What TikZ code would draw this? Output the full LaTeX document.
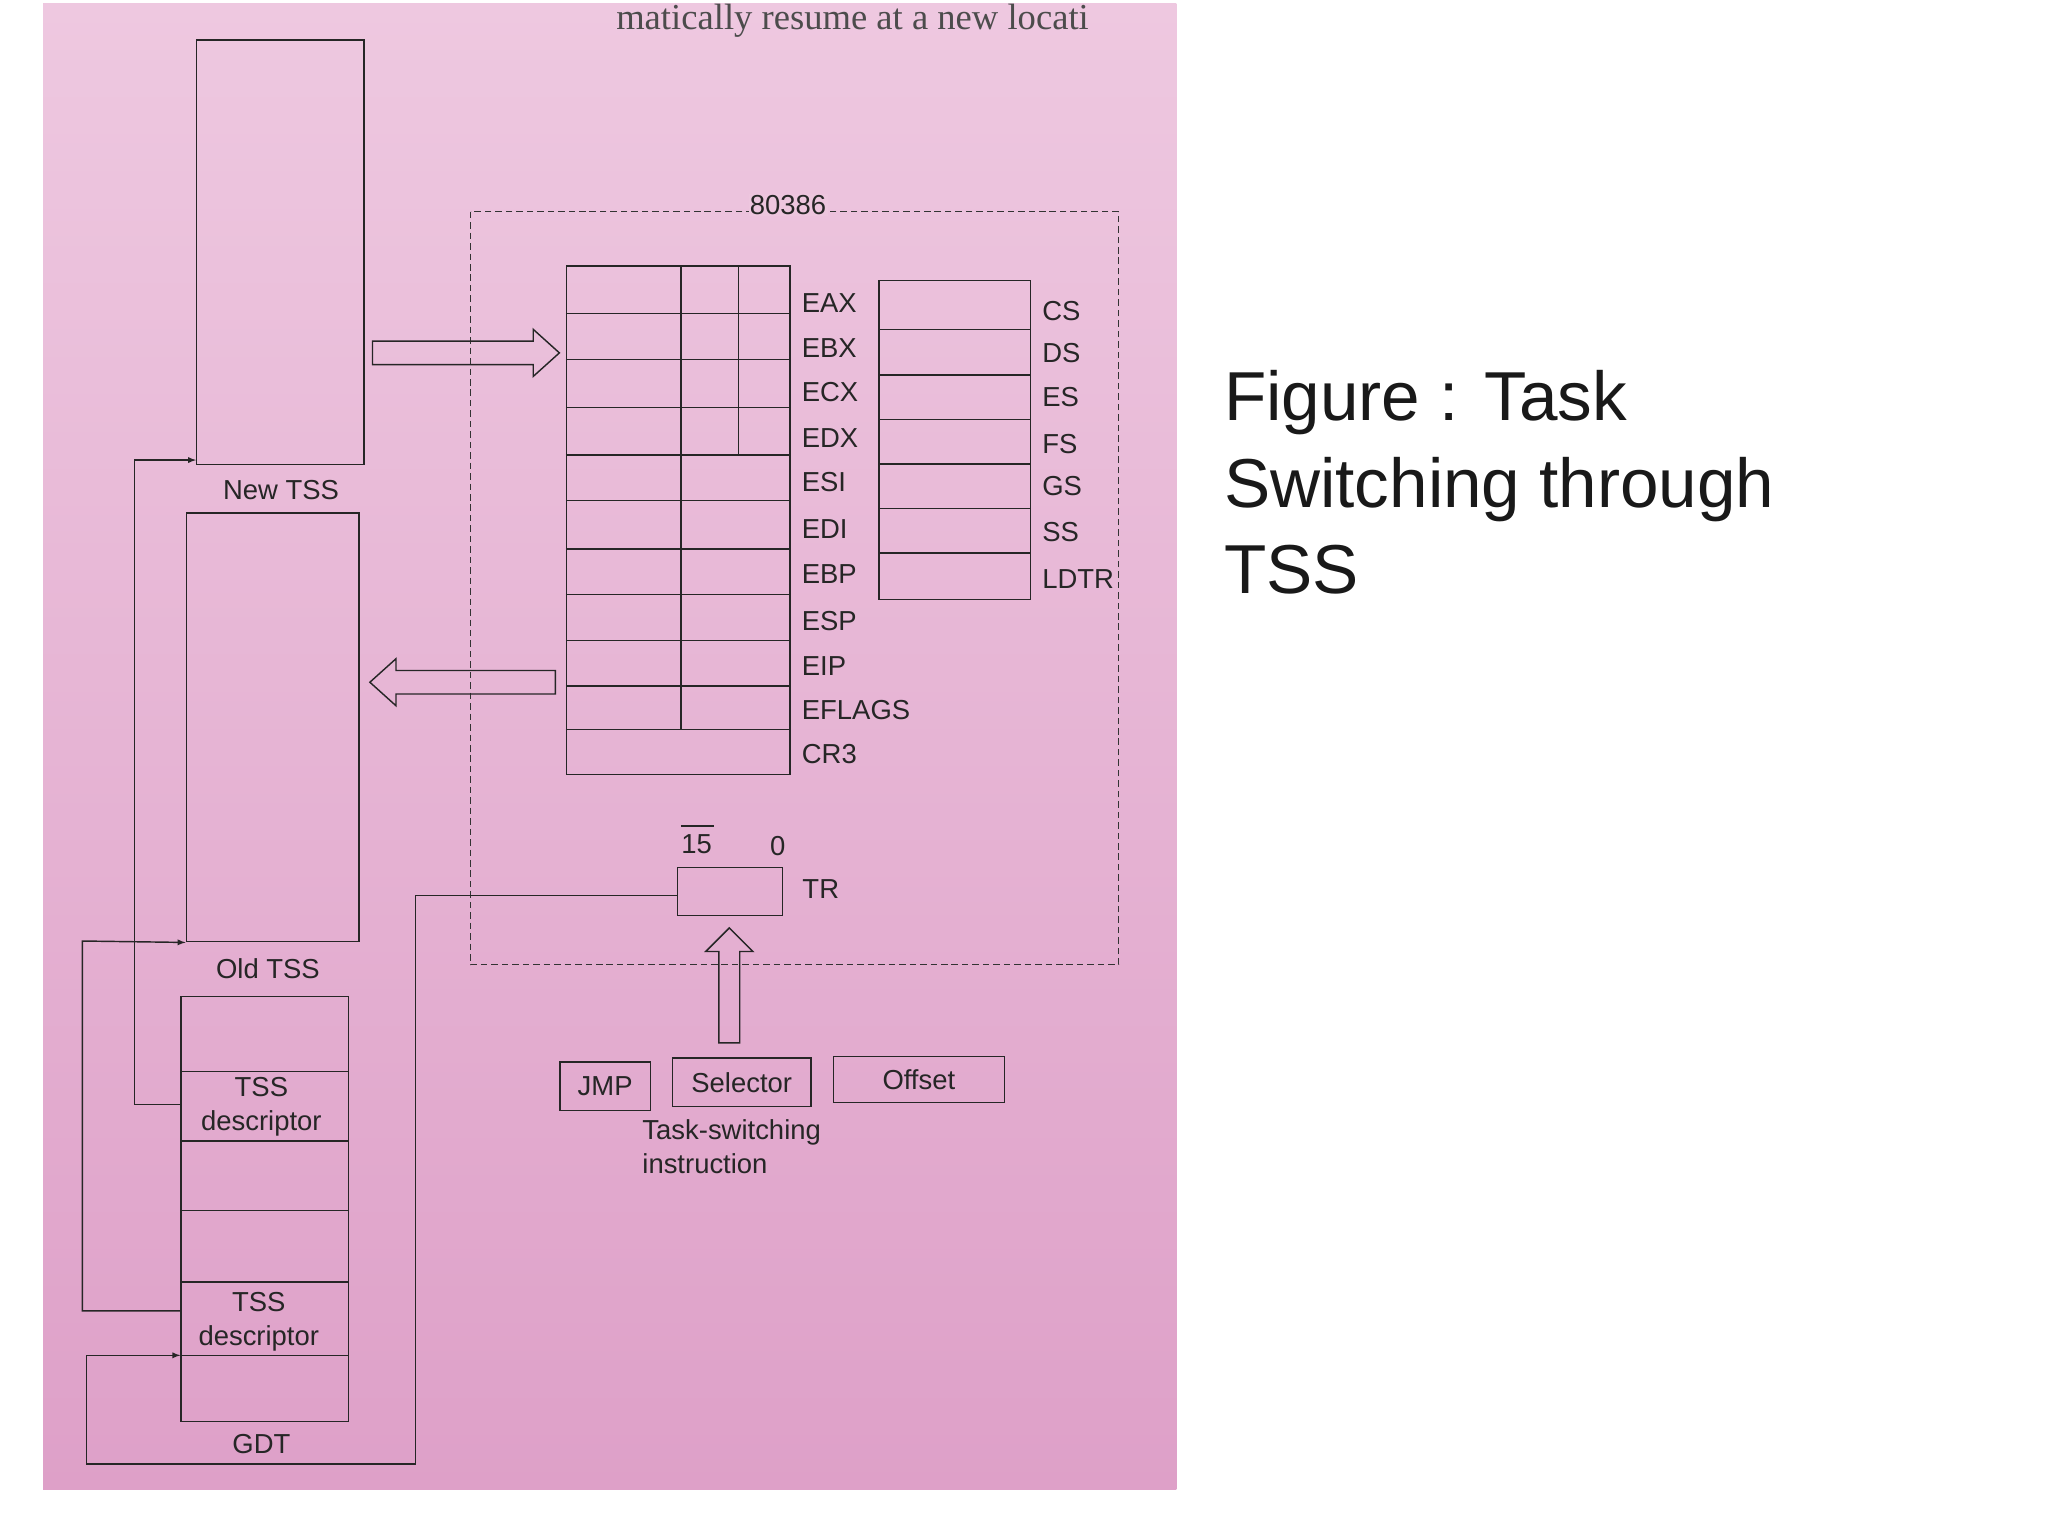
\documentclass[tikz,border=0pt]{standalone}
\usepackage{fontspec}
\setmainfont{Liberation Sans}
\newfontfamily\serifx{Liberation Serif}
\begin{document}
\begin{tikzpicture}[x=1pt,y=-1pt,
  box/.style={draw=black!85,line width=1.1pt,anchor=north west,inner sep=0pt},
  lbl/.style={font=\fontsize{21}{24}\selectfont,text=black!85},
  ln/.style={draw=black!85,line width=1.1pt},
  hol/.style={draw=black!85,line width=1.1pt,fill=none,line join=miter}]
\useasboundingbox (0,0) rectangle (1567,1175);
\fill[white] (0,0) rectangle (1567,1175);
\begin{scope}
\clip (33,3) rectangle (900,1140);
\shade[top color={rgb,255:red,238;green,200;blue,224},bottom color={rgb,255:red,222;green,160;blue,200}] (33,3) rectangle (900,1140);
\end{scope}
\node[anchor=west,font=\serifx\fontsize{28}{30}\selectfont,text=black!70] at (468,16) {matically resume at a new locati};
% TSS boxes
\node[box,minimum width=128pt,minimum height=325pt] (newtss) at (150,30) {};
\node[lbl] at (215,375) {New TSS};
\node[box,minimum width=132pt,minimum height=328pt] (oldtss) at (142,392) {};
\node[lbl] at (205,741) {Old TSS};
% GDT
\node[box,minimum width=128pt,minimum height=325pt] (gdt) at (138,762) {};
\foreach \y in {820,873,926,981,1037} \draw[ln] (138,\y) -- (266,\y);
\node[lbl,align=center,font=\fontsize{21}{26}\selectfont] (d1) at (200,847) {TSS\\descriptor};
\node[lbl,align=center,font=\fontsize{21}{26}\selectfont] (d2) at (198,1011) {TSS\\descriptor};
\node[lbl] at (200,1105) {GDT};
% 80386
\draw[black!80,line width=1pt,dash pattern=on 5pt off 3pt] (360,162) rectangle (856,738);
\node[lbl,fill={rgb,255:red,237;green,198;blue,222},inner sep=1pt] at (603,157) {80386};
% registers
\node[box,minimum width=171pt,minimum height=389pt] (regs) at (433,203) {};
\foreach \y in {240,275,312,348,383,420,455,490,525,558} \draw[ln] (433,\y) -- (604,\y);
\draw[ln] (521,203) -- (521,558);
\draw[ln] (565,203) -- (565,348);
\foreach \t/\y in {EAX/232,EBX/266,ECX/300,EDX/335,ESI/369,EDI/405,EBP/439,ESP/475,EIP/510,EFLAGS/543,CR3/577}
  \node[lbl,anchor=west] at (610,\y) {\t};
\node[box,minimum width=116pt,minimum height=244pt] (segs) at (672,214) {};
\foreach \y in {252,287,321,355,389,423} \draw[ln] (672,\y) -- (788,\y);
\foreach \t/\y in {CS/238,DS/270,ES/304,FS/340,GS/372,SS/407,LDTR/443}
  \node[lbl,anchor=west] at (794,\y) {\t};
% hollow arrows
\draw[hol] (285,261) -- (408,261) -- (408,252) -- (428,270) -- (408,288) -- (408,279) -- (285,279) -- cycle;
\draw[hol] (425,513) -- (303,513) -- (303,504) -- (283,522) -- (303,540) -- (303,531) -- (425,531) -- cycle;
\draw[hol] (550,798) -- (550,728) -- (540,728) -- (558,710) -- (576,728) -- (566,728) -- (566,798) -- cycle;
% TR
\node[box,minimum width=80pt,minimum height=37pt] (tr) at (518,663) {};
\node[lbl] (n15) at (533,646) {15};
\draw[ln] (521,632) -- (546,632);
\node[lbl] at (595,647) {0};
\node[lbl] at (628,680) {TR};
% instruction
\node[box,minimum width=69pt,minimum height=37pt] (jmp) at (428,812) {};
\node[lbl] at (jmp.center) {JMP};
\node[box,minimum width=106pt,minimum height=37pt] (sel) at (514,809) {};
\node[lbl] at (sel.center) {Selector};
\node[box,minimum width=131pt,minimum height=35pt] (off) at (637,808) {};
\node[lbl] at (off.center) {Offset};
\node[lbl,anchor=north west,align=left,font=\fontsize{21}{26}\selectfont] at (488,853) {Task-switching\\instruction};
% connectors
\coordinate (c1) at (318,1120);
\coordinate (c2) at (66,1037);
\draw[ln] (tr.west |- 0,685) -- (318,685) -- (c1) -- (66,1120) -- (c2);
\draw[ln,-latex] (c2) -- (138,1037);
\draw[ln,-latex] (138,1003) -- (63,1003) -- (63,720) -- (oldtss.south west);
\draw[ln,-latex] (138,845) -- (103,845) -- (103,352) -- (newtss.south west |- 0,352);
% title
\node[anchor=north west,align=left,font=\fontsize{53}{66}\selectfont,text=black!90] at (933,280) {Figure : Task\\Switching through\\TSS};
\end{tikzpicture}
\end{document}
